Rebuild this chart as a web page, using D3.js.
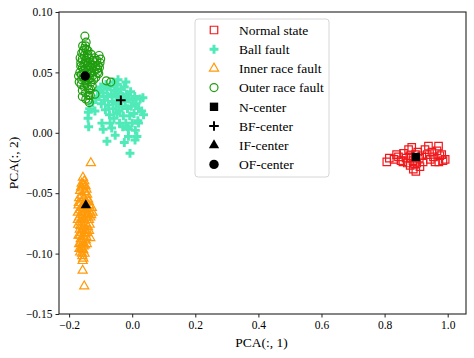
<!DOCTYPE html>
<html>
<head>
<meta charset="utf-8">
<script src="https://cdn.jsdelivr.net/npm/d3@7"></script>
<style>
  body { margin: 0; background: #fff; }
  text { font-family: "Liberation Serif", "Times New Roman", serif; fill: #000; }
</style>
</head>
<body>
<script>
// point clouds, [PCA1, PCA2]
var normalPts = [[0.807,-0.024],[0.815,-0.021],[0.830,-0.022],[0.844,-0.020],[0.852,-0.023],[0.860,-0.017],[0.868,-0.021],[0.876,-0.014],[0.880,-0.019],[0.886,-0.012],[0.890,-0.023],[0.881,-0.027],[0.891,-0.030],[0.895,-0.026],[0.902,-0.025],[0.905,-0.016],[0.910,-0.021],[0.918,-0.019],[0.922,-0.024],[0.928,-0.014],[0.935,-0.018],[0.939,-0.011],[0.945,-0.022],[0.950,-0.016],[0.955,-0.020],[0.960,-0.024],[0.966,-0.015],[0.971,-0.011],[0.975,-0.019],[0.981,-0.018],[0.985,-0.023],[0.992,-0.022],[0.972,-0.024],[0.898,-0.018],[0.885,-0.021],[0.872,-0.025],[0.912,-0.028],[0.899,-0.032],[0.858,-0.024],[0.838,-0.018]];

var ballPts = [[-0.135,0.020],[-0.125,0.025],[-0.115,0.028],[-0.118,0.018],[-0.140,0.012],[-0.138,0.005],[-0.105,0.030],[-0.098,0.024],[-0.092,0.033],[-0.088,0.027],[-0.085,0.019],[-0.080,0.036],[-0.078,0.030],[-0.075,0.023],[-0.072,0.015],[-0.070,0.038],[-0.066,0.032],[-0.063,0.026],[-0.060,0.020],[-0.058,0.012],[-0.056,0.035],[-0.052,0.030],[-0.050,0.024],[-0.047,0.040],[-0.044,0.033],[-0.042,0.018],[-0.040,0.028],[-0.036,0.036],[-0.033,0.022],[-0.030,0.030],[-0.028,0.014],[-0.025,0.038],[-0.022,0.026],[-0.020,0.008],[-0.018,0.032],[-0.015,0.020],[-0.012,0.003],[-0.010,0.028],[-0.008,0.014],[-0.005,0.034],[-0.003,0.022],[0.000,0.008],[0.003,0.027],[0.006,0.016],[0.010,0.002],[0.012,0.024],[0.015,-0.003],[0.018,0.010],[0.020,0.020],[0.025,0.028],[0.030,0.018],[0.034,0.029],[0.036,0.015],[0.009,-0.006],[-0.007,-0.017],[-0.012,-0.003],[-0.030,0.005],[-0.040,0.008],[-0.054,-0.002],[-0.080,-0.007],[-0.096,0.008],[-0.092,0.003],[-0.065,0.004],[-0.100,0.038],[-0.110,0.035],[-0.060,0.042],[-0.020,0.042],[-0.045,0.044],[-0.015,0.005],[0.008,0.030],[-0.070,0.008],[-0.025,-0.008],[0.020,0.008],[-0.083,0.040],[-0.048,0.016],[-0.139,0.017]];

var innerPts = [[-0.131,-0.025],[-0.156,-0.037],[-0.152,-0.040],[-0.160,-0.042],[-0.148,-0.044],[-0.157,-0.046],[-0.165,-0.048],[-0.150,-0.049],[-0.143,-0.051],[-0.160,-0.052],[-0.168,-0.054],[-0.153,-0.054],[-0.140,-0.055],[-0.147,-0.057],[-0.162,-0.058],[-0.170,-0.060],[-0.155,-0.061],[-0.137,-0.060],[-0.145,-0.063],[-0.165,-0.064],[-0.172,-0.066],[-0.150,-0.066],[-0.135,-0.065],[-0.158,-0.068],[-0.142,-0.069],[-0.168,-0.070],[-0.153,-0.072],[-0.137,-0.072],[-0.163,-0.074],[-0.147,-0.075],[-0.171,-0.076],[-0.156,-0.078],[-0.140,-0.078],[-0.166,-0.080],[-0.150,-0.081],[-0.160,-0.083],[-0.143,-0.083],[-0.170,-0.085],[-0.154,-0.086],[-0.133,-0.087],[-0.163,-0.088],[-0.147,-0.089],[-0.157,-0.091],[-0.168,-0.092],[-0.150,-0.093],[-0.161,-0.095],[-0.155,-0.097],[-0.165,-0.099],[-0.151,-0.100],[-0.158,-0.102],[-0.155,-0.104],[-0.157,-0.106],[-0.157,-0.114],[-0.152,-0.127],[-0.145,-0.047],[-0.162,-0.062],[-0.148,-0.060],[-0.140,-0.067],[-0.160,-0.071],[-0.152,-0.077],[-0.145,-0.080],[-0.166,-0.085],[-0.158,-0.088],[-0.144,-0.092],[-0.169,-0.058],[-0.135,-0.076],[-0.133,-0.070],[-0.128,-0.062],[-0.126,-0.066],[-0.160,-0.096],[-0.152,-0.083],[-0.154,-0.043],[-0.162,-0.045],[-0.138,-0.057],[-0.130,-0.068],[-0.146,-0.070],[-0.164,-0.077],[-0.149,-0.084],[-0.137,-0.081],[-0.172,-0.072],[-0.159,-0.065],[-0.141,-0.062],[-0.154,-0.094],[-0.163,-0.091],[-0.146,-0.086],[-0.167,-0.096],[-0.159,-0.100]];

var outerPts = [[-0.150,0.080],[-0.148,0.072],[-0.155,0.068],[-0.145,0.069],[-0.160,0.066],[-0.152,0.064],[-0.142,0.065],[-0.158,0.061],[-0.147,0.060],[-0.137,0.062],[-0.163,0.058],[-0.153,0.057],[-0.143,0.056],[-0.133,0.058],[-0.125,0.060],[-0.118,0.058],[-0.105,0.064],[-0.102,0.058],[-0.104,0.054],[-0.110,0.053],[-0.116,0.055],[-0.120,0.051],[-0.128,0.054],[-0.138,0.052],[-0.148,0.053],[-0.158,0.054],[-0.166,0.050],[-0.156,0.049],[-0.146,0.048],[-0.136,0.049],[-0.126,0.047],[-0.115,0.046],[-0.106,0.049],[-0.170,0.047],[-0.160,0.044],[-0.150,0.043],[-0.140,0.044],[-0.130,0.042],[-0.162,0.040],[-0.152,0.038],[-0.142,0.039],[-0.132,0.036],[-0.158,0.035],[-0.148,0.033],[-0.138,0.031],[-0.118,0.032],[-0.140,0.027],[-0.136,0.025],[-0.082,0.043],[-0.068,0.042],[-0.165,0.062],[-0.154,0.052],[-0.144,0.046],[-0.120,0.062],[-0.110,0.050],[-0.130,0.065],[-0.163,0.055],[-0.151,0.070],[-0.141,0.058],[-0.134,0.045],[-0.127,0.039],[-0.155,0.046],[-0.158,0.030],[-0.146,0.075],[-0.157,0.072],[-0.140,0.068],[-0.135,0.055],[-0.124,0.056],[-0.112,0.060],[-0.100,0.061],[-0.108,0.056],[-0.122,0.044],[-0.146,0.041],[-0.138,0.036],[-0.150,0.058],[-0.161,0.048],[-0.168,0.042],[-0.144,0.062],[-0.128,0.050],[-0.133,0.031],[-0.147,0.028]];

var centers = [
  {name: 'N-center', x: 0.899, y: -0.020, shape: 'square'},
  {name: 'BF-center', x: -0.036, y: 0.027, shape: 'plus'},
  {name: 'IF-center', x: -0.147, y: -0.060, shape: 'triangle'},
  {name: 'OF-center', x: -0.149, y: 0.047, shape: 'circle'}
];

var xTicks = [-0.2, 0.0, 0.2, 0.4, 0.6, 0.8, 1.0];
var yTicks = [-0.15, -0.10, -0.05, 0.00, 0.05, 0.10];

var W = 474, H = 358;
var margin = {top: 12, right: 8, bottom: 44, left: 59};
var width = W - margin.left - margin.right;
var height = H - margin.top - margin.bottom;

var svg = d3.select('body').append('svg')
  .attr('width', W)
  .attr('height', H);

var g = svg.append('g')
  .attr('transform', `translate(${margin.left},${margin.top})`);

var x = d3.scaleLinear().domain([-0.232, 1.058]).range([0, width]);
var y = d3.scaleLinear().domain([-0.15, 0.10]).range([height, 0]);

var red = '#f0191c', aqua = '#50eab8', orange = '#ff9a0a', green = '#1f9d0e';

function sym(type, size) {
  return d3.symbol().type(type).size(size)();
}
// thin '+' for the BF center
function plusPath(r) {
  return `M${-r},0H${r}M0,${-r}V${r}`;
}

// normal state: open squares
g.append('g').selectAll('path')
  .data(normalPts).enter().append('path')
  .attr('d', sym(d3.symbolSquare, 56))
  .attr('transform', d => `translate(${x(d[0])},${y(d[1])})`)
  .attr('fill', 'none')
  .attr('stroke', red)
  .attr('stroke-width', 1.2);

// ball fault: filled plus
g.append('g').selectAll('path')
  .data(ballPts).enter().append('path')
  .attr('d', sym(d3.symbolCross, 44))
  .attr('transform', d => `translate(${x(d[0])},${y(d[1])})`)
  .attr('fill', aqua);

// inner race: open triangles
g.append('g').selectAll('path')
  .data(innerPts).enter().append('path')
  .attr('d', sym(d3.symbolTriangle, 36))
  .attr('transform', d => `translate(${x(d[0])},${y(d[1])})`)
  .attr('fill', 'none')
  .attr('stroke', orange)
  .attr('stroke-width', 1.2);

// outer race: open circles
g.append('g').selectAll('path')
  .data(outerPts).enter().append('path')
  .attr('d', sym(d3.symbolCircle, 50))
  .attr('transform', d => `translate(${x(d[0])},${y(d[1])})`)
  .attr('fill', 'none')
  .attr('stroke', green)
  .attr('stroke-width', 1.2);

// centers
function centerPath(shape) {
  if (shape === 'square') return sym(d3.symbolSquare, 70);
  if (shape === 'triangle') return sym(d3.symbolTriangle, 46);
  if (shape === 'circle') return sym(d3.symbolCircle, 70);
  return plusPath(4.8);
}
g.append('g').selectAll('path')
  .data(centers).enter().append('path')
  .attr('d', d => centerPath(d.shape))
  .attr('transform', d => `translate(${x(d.x)},${y(d.y)})`)
  .attr('fill', d => d.shape === 'plus' ? 'none' : '#000')
  .attr('stroke', d => d.shape === 'plus' ? '#000' : 'none')
  .attr('stroke-width', 2);

// frame
g.append('rect')
  .attr('width', width).attr('height', height)
  .attr('fill', 'none').attr('stroke', '#222').attr('stroke-width', 1.1);

var fmtMinus = s => s.replace('-', '\u2212');

var xAxis = g.append('g')
  .attr('transform', `translate(0,${height})`)
  .call(d3.axisBottom(x).tickValues(xTicks).tickSize(3.5).tickPadding(3)
    .tickFormat(d => fmtMinus(d3.format('.1f')(d))));
var yAxis = g.append('g')
  .call(d3.axisLeft(y).tickValues(yTicks).tickSize(3.5).tickPadding(3)
    .tickFormat(d => fmtMinus(d3.format('.2f')(d))));
[xAxis, yAxis].forEach(a => {
  a.select('.domain').remove();
  a.selectAll('line').attr('stroke', '#222');
  a.selectAll('text').style('font-family', '"Liberation Serif", serif').style('font-size', '11.5px').attr('fill', '#000');
});

// axis labels
svg.append('text')
  .text('PCA(:, 1)')
  .attr('x', margin.left + x(0.4) + 3)
  .attr('y', 347)
  .attr('text-anchor', 'middle')
  .style('font-size', '13.5px');

svg.append('text')
  .text('PCA(:, 2)')
  .attr('text-anchor', 'middle')
  .attr('transform', `translate(18,${margin.top + height / 2}) rotate(-90)`)
  .style('font-size', '13.5px');

// legend
var legendItems = [
  {label: 'Normal state', draw: s => s.attr('d', sym(d3.symbolSquare, 56)).attr('fill', 'none').attr('stroke', red).attr('stroke-width', 1.2)},
  {label: 'Ball fault', draw: s => s.attr('d', sym(d3.symbolCross, 44)).attr('fill', aqua)},
  {label: 'Inner race fault', draw: s => s.attr('d', sym(d3.symbolTriangle, 36)).attr('fill', 'none').attr('stroke', orange).attr('stroke-width', 1.2)},
  {label: 'Outer race fault', draw: s => s.attr('d', sym(d3.symbolCircle, 50)).attr('fill', 'none').attr('stroke', green).attr('stroke-width', 1.2)}
].concat(centers.map(c => ({
  label: c.name,
  draw: s => s.attr('d', centerPath(c.shape))
    .attr('fill', c.shape === 'plus' ? 'none' : '#000')
    .attr('stroke', c.shape === 'plus' ? '#000' : 'none')
    .attr('stroke-width', 2)
})));

var lg = svg.append('g').attr('transform', 'translate(195,19)');
lg.append('rect')
  .attr('width', 134).attr('height', 158)
  .attr('rx', 3)
  .attr('fill', '#fff').attr('fill-opacity', 0.8)
  .attr('stroke', '#d6d6d6');

legendItems.forEach((d, i) => {
  var row = lg.append('g').attr('transform', `translate(0,${11 + i * 19.2})`);
  row.append('path').attr('transform', 'translate(19,0)').call(d.draw);
  row.append('text')
    .text(d.label)
    .attr('x', 44)
    .attr('dy', '0.35em')
    .style('font-size', '13.5px');
});
</script>
</body>
</html>
